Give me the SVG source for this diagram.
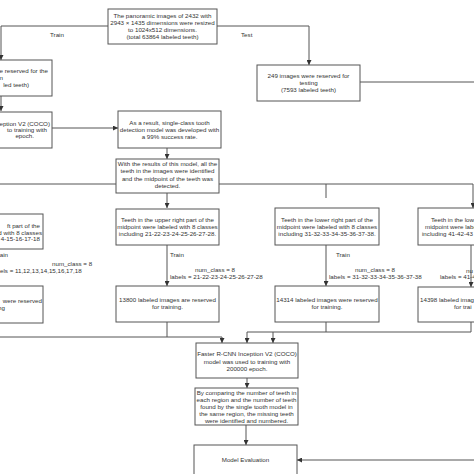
<svg xmlns="http://www.w3.org/2000/svg" width="474" height="474" viewBox="0 0 474 474">
<defs>
<marker id="arr" markerWidth="5" markerHeight="5" refX="5" refY="2.5" orient="auto" markerUnits="userSpaceOnUse">
<path d="M0,0 L5,2.5 L0,5 z" fill="#333"/>
</marker>
<style>
.box{fill:#fff;stroke:#555;stroke-width:1}
.t{font-family:"Liberation Sans",Arial,sans-serif;font-size:6.2px;fill:#333;text-anchor:middle}
.s{text-anchor:start}
.e{text-anchor:end}
.ln{fill:none;stroke:#555;stroke-width:1}
.a{marker-end:url(#arr)}
</style>
</defs>
<rect width="474" height="474" fill="#fff"/>

<g id="connectors">
<polyline class="ln a" points="108,26 1,26 1,60"/>
<polyline class="ln a" points="217,26 309,26 309,65"/>
<polyline class="ln" points="360,82 476,82"/>
<polyline class="ln a" points="1,96 1,111"/>
<polyline class="ln a" points="52,128 118,128"/>
<polyline class="ln a" points="167,148 167,159"/>
<polyline class="ln a" points="167,193 167,208"/>
<polyline class="ln" points="116,184 -20,184"/>
<polyline class="ln a" points="219,184 473,184 473,208"/>
<polyline class="ln" points="326,184 326,198"/>
<polyline class="ln a" points="167,245 167,286"/>
<polyline class="ln a" points="326,245 326,286"/>
<polyline class="ln a" points="471,245 471,287"/>
<polyline class="ln a" points="-10,249 -10,286"/>
<polyline class="ln" points="167,322 167,337"/>
<polyline class="ln a" points="-20,337 222,337 222,343"/>
<polyline class="ln" points="326,322 326,332"/>
<polyline class="ln a" points="471,322 471,332 247,332 247,343"/>
<polyline class="ln a" points="273,332 273,343"/>
<polyline class="ln a" points="247,378 247,388"/>
<polyline class="ln a" points="246,425 246,445"/>
<polyline class="ln a" points="476,460 297,460"/>
<text class="t" x="57" y="37">Train</text>
<text class="t s" x="241" y="37">Test</text>
<text class="t e" x="8" y="257">ain</text>
<text class="t s" x="52" y="266">num_class = 8</text>
<text class="t s" x="0" y="273">els = 11,12,13,14,15,16,17,18</text>
<text class="t s" x="170" y="257">Train</text>
<text class="t" x="215" y="272">num_class = 8</text>
<text class="t s" x="170" y="279">labels = 21-22-23-24-25-26-27-28</text>
<text class="t s" x="336" y="257">Train</text>
<text class="t" x="375" y="272">num_class = 8</text>
<text class="t s" x="329" y="279">labels = 31-32-33-34-35-36-37-38</text>
<text class="t s" x="466" y="273">nu</text>
<text class="t s" x="440" y="279">labels = 41-4</text>
</g>

<g id="n-top">
<rect class="box" x="108" y="9" width="109" height="35"/>
<text class="t" x="162.5" y="18">The panoramic images of 2432 with</text>
<text class="t" x="162.5" y="25">2943 × 1435 dimensions were resized</text>
<text class="t" x="162.5" y="32">to 1024x512 dimensions.</text>
<text class="t" x="162.5" y="39">(total 63864 labeled teeth)</text>
</g>

<g id="n-train">
<rect class="box" x="-51" y="60" width="103" height="36"/>
<text class="t e" x="48" y="73">e reserved for the</text>
<text class="t e" x="3" y="80">n</text>
<text class="t e" x="29" y="87">led teeth)</text>
</g>

<g id="n-test">
<rect class="box" x="257" y="65" width="103" height="36"/>
<text class="t" x="308.5" y="78">249 images were reserved for</text>
<text class="t" x="308.5" y="85">testing</text>
<text class="t" x="308.5" y="92">(7593 labeled teeth)</text>
</g>

<g id="n-single-train">
<rect class="box" x="-51" y="112" width="103" height="36"/>
<text class="t e" x="50" y="126">eption V2 (COCO)</text>
<text class="t e" x="47" y="132">to training with</text>
<text class="t e" x="34" y="138">epoch.</text>
</g>

<g id="n-result">
<rect class="box" x="118" y="111" width="103" height="37"/>
<text class="t" x="169.5" y="125">As a result, single-class tooth</text>
<text class="t" x="169.5" y="132">detection model was developed with</text>
<text class="t" x="169.5" y="139">a 99% success rate.</text>
</g>

<g id="n-midpoint">
<rect class="box" x="116" y="159" width="103" height="34"/>
<text class="t" x="167.5" y="166">With the results of this model, all the</text>
<text class="t" x="167.5" y="173">teeth in the images were identified</text>
<text class="t" x="167.5" y="180.5">and the midpoint of the teeth was</text>
<text class="t" x="167.5" y="188">detected.</text>
</g>

<g id="n-upper-left">
<rect class="box" x="-60" y="214" width="103" height="35"/>
<text class="t e" x="40" y="228">ft part of the</text>
<text class="t e" x="42" y="234.5">d with 8 classes</text>
<text class="t e" x="40" y="241">4-15-16-17-18</text>
</g>

<g id="n-upper-right">
<rect class="box" x="116" y="209" width="103" height="36"/>
<text class="t" x="167.5" y="222">Teeth in the upper right part of the</text>
<text class="t" x="167.5" y="229">midpoint were labeled with 8 classes</text>
<text class="t" x="167.5" y="236">including 21-22-23-24-25-26-27-28.</text>
</g>

<g id="n-lower-right">
<rect class="box" x="275" y="208" width="104" height="37"/>
<text class="t" x="327" y="222">Teeth in the lower right part of the</text>
<text class="t" x="327" y="229">midpoint were labeled with 8 classes</text>
<text class="t" x="327" y="236">including 31-32-33-34-35-36-37-38.</text>
</g>

<g id="n-lower-left">
<rect class="box" x="418" y="208" width="110" height="37"/>
<text class="t s" x="431" y="222">Teeth in the lowe</text>
<text class="t s" x="425" y="229">midpoint were label</text>
<text class="t s" x="422" y="236">including 41-42-43</text>
</g>

<g id="n-ul-train">
<rect class="box" x="-60" y="286" width="103" height="37"/>
<text class="t e" x="42" y="303">were reserved</text>
<text class="t e" x="5" y="309.5">ng</text>
</g>

<g id="n-ur-train">
<rect class="box" x="116" y="286" width="103" height="36"/>
<text class="t" x="167.5" y="302">13800 labeled images are reserved</text>
<text class="t" x="167.5" y="309">for training.</text>
</g>

<g id="n-lr-train">
<rect class="box" x="275" y="286" width="104" height="36"/>
<text class="t" x="327" y="302">14314 labeled images were reserved</text>
<text class="t" x="327" y="309">for training.</text>
</g>

<g id="n-ll-train">
<rect class="box" x="418" y="287" width="110" height="35"/>
<text class="t s" x="420" y="302">14398 labeled imag</text>
<text class="t s" x="454" y="309">for trai</text>
</g>

<g id="n-faster">
<rect class="box" x="196" y="343" width="102" height="35"/>
<text class="t" x="247" y="356">Faster R-CNN Inception V2 (COCO)</text>
<text class="t" x="247" y="363.5">model was used to training with</text>
<text class="t" x="247" y="371">200000 epoch.</text>
</g>

<g id="n-compare">
<rect class="box" x="195" y="388" width="103" height="37"/>
<text class="t" x="246.5" y="395">By comparing the number of teeth in</text>
<text class="t" x="246.5" y="402">each region and the number of teeth</text>
<text class="t" x="246.5" y="409">found by the single tooth model in</text>
<text class="t" x="246.5" y="416">the same region, the missing teeth</text>
<text class="t" x="246.5" y="423">were identified and numbered.</text>
</g>

<g id="n-eval">
<rect class="box" x="194" y="445" width="103" height="45"/>
<text class="t" x="245.5" y="462">Model Evaluation</text>
</g>
</svg>
